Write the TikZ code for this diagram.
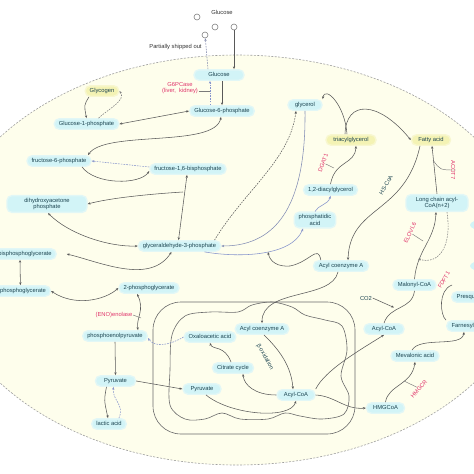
\documentclass[tikz,border=0pt]{standalone}
\usepackage{fontspec}
\setmainfont{Liberation Sans}
\usetikzlibrary{arrows.meta}
\definecolor{bgy}{HTML}{FEFEEC}
\definecolor{cyg}{HTML}{D2F4F7}
\definecolor{cyedge}{HTML}{E2F7F6}
\definecolor{yeg}{HTML}{F4F3B4}
\definecolor{yedge}{HTML}{F8F7CF}
\definecolor{txt}{HTML}{1C4450}
\definecolor{redl}{HTML}{E0356B}
\definecolor{ln}{HTML}{595959}
\definecolor{bl}{HTML}{8593CC}
\begin{document}
\begin{tikzpicture}[x=1pt,y=-1pt,
  every node/.style={font=\fontsize{5.8}{6.6}\selectfont, text=txt},
  glow/.style={fill=cyg, draw=cyedge, line width=1.4pt, rounded corners=5pt, inner xsep=4.5pt, inner ysep=2.4pt},
  met/.style={glow, text height=4.3pt, text depth=1.3pt},
  met2/.style={glow, align=center},
  fat/.style={met, fill=yeg, draw=yedge},
  enz/.style={text=redl, inner sep=0.5pt},
  lab/.style={inner sep=0.5pt},
  outl/.style={inner sep=0.5pt, text=black!80},
  con/.style={draw=ln, line width=0.55pt},
  tip/.style={-{Stealth[length=2.8pt,width=2.3pt]}},
  arr/.style={con, tip},
  both/.style={con, {Stealth[length=2.8pt,width=2.3pt]}-{Stealth[length=2.8pt,width=2.3pt]}},
  dsh/.style={dash pattern=on 1.6pt off 1.1pt},
  blu/.style={draw=bl},
  thin/.style={draw=ln!80, line width=0.45pt},
  memb/.style={draw=ln!90, line width=0.6pt},
  circ/.style={circle, draw=gray, fill=white, minimum size=6pt, inner sep=0pt, line width=0.6pt}
]
\fill[white] (0,0) rectangle (474,474);
\useasboundingbox (0,0) rectangle (474,474);
% cell
\draw[draw=gray!75, fill=bgy, dash pattern=on 2pt off 1.5pt, line width=0.6pt] (237,260) ellipse [x radius=296pt, y radius=205pt];
% mitochondrion
\draw[memb, rounded corners=28pt] (153,302) rectangle (355,434);
\draw[memb] plot[smooth cycle, tension=0.55] coordinates {(170,370) (172,335) (185,316) (210,312) (238,312) (252,305) (272,302) (292,307) (305,315) (325,320) (342,326) (347,350) (341,376) (349,396) (344,414) (322,419) (300,416) (285,413) (268,419) (240,419) (222,413) (205,419) (185,419) (170,405)};
% partial nodes at the right edge
\fill[cyg] (484,225) ellipse [x radius=14pt, y radius=5.5pt];
\fill[cyg] (484,266) ellipse [x radius=14pt, y radius=5.5pt];

% outside
\node[outl] (glc0) at (222,12) {Glucose};
\node[outl] (ship) at (175.5,47) {Partially shipped out};
\node[circ] (c1) at (197,17) {};
\node[circ] (c2) at (215,27) {};
\node[circ] (c3) at (234,27) {};
\node[circ] (c4) at (205,35) {};

% metabolites
\node[met, minimum width=50pt] (glucose) at (219,75) {Glucose};
\node[met] (g6p) at (222,111) {Glucose-6-phosphate};
\node[fat] (glycogen) at (102,91) {Glycogen};
\node[met] (g1p) at (86.5,124) {Glucose-1-phosphate};
\node[met] (f6p) at (59,161) {fructose-6-phosphate};
\node[met] (f16bp) at (188,169) {fructose-1,6-bisphosphate};
\node[met2, minimum width=80pt] (dhap) at (47,204) {dihydroxyacetone\\phosphate};
\node[met] (g3p) at (179.5,246) {glyceraldehyde-3-phosphate};
\node[met] (bpg) at (20,254) {1,3-bisphosphoglycerate};
\node[met] (pg3) at (20.4,291) {3-phosphoglycerate};
\node[met] (pg2) at (149,288) {2-phosphoglycerate};
\node[met] (pep) at (115,336) {phosphoenolpyruvate};
\node[met, minimum width=40pt] (pyr1) at (115.5,381) {Pyruvate};
\node[met] (lactic) at (109,424) {lactic acid};
\node[met] (oaa) at (210,337) {Oxaloacetic acid};
\node[met] (acylin) at (262,329) {Acyl coenzyme A};
\node[met] (citrate) at (233,368) {Citrate cycle};
\node[met, minimum width=38pt] (pyr2) at (202,389) {Pyruvate};
\node[met, minimum width=38pt] (acylcoain) at (296,395) {Acyl-CoA};
\node[met, minimum width=34pt] (glycerol) at (305,105) {glycerol};
\node[fat, minimum width=50pt] (tag) at (351,140) {triacylglycerol};
\node[fat, minimum width=39pt] (fa) at (431,140) {Fatty acid};
\node[met] (dag) at (330.5,190) {1,2-diacylglycerol};
\node[met2] (pa) at (315,220) {phosphatidic\\acid};
\node[met2, minimum width=62pt] (lcacyl) at (437,203) {Long chain acyl-\\CoA(n+2)};
\node[met, minimum width=43pt] (malonyl) at (414.5,285) {Malonyl-CoA};
\node[met, minimum width=55pt] (acyltop) at (341,266) {Acyl coenzyme A};
\node[met, minimum width=40pt] (acylcoar) at (384,329) {Acyl-CoA};
\node[met, minimum width=48pt] (meval) at (415,356) {Mevalonic acid};
\node[met, minimum width=38pt] (hmgcoa) at (385.5,408) {HMGCoA};
\node[met, anchor=west, inner xsep=5pt] (presq) at (451,297) {Presqu};
\node[met, anchor=west, inner xsep=5pt] (farn) at (446,326) {Farnesyl-};

% enzyme and other labels
\node[enz, align=center] (g6pcase) at (180,88) {G6PCase\\(liver,\ \ kidney)};
\node[enz, rotate=70] (dgat) at (323,163) {DGAT1};
\node[enz, rotate=-90] (acot) at (453,170) {ACOT7};
\node[enz, rotate=65] (elovl) at (410,233) {ELOVL6};
\node[enz, rotate=60] (fdft) at (444,280) {FDFT1};
\node[enz, rotate=50] (hmgcr) at (419,389) {HMGCR};
\node[enz] (eno) at (114,315) {(ENO)enolase};
\node[lab, rotate=60] (hscoa) at (386,185) {HS-CoA};
\node[lab] (co2) at (366,298) {CO2};
\node[lab, rotate=-60] (boxid) at (265,357) {β-oxidation};

% junction points
\coordinate (gcj) at (210,91);
\coordinate (ald) at (183,192);
\coordinate (enoj) at (141,318);
\coordinate (elj) at (418,259);
\coordinate (co2j) at (394,307.5);
\coordinate (acj) at (268,252);
\coordinate (dgj) at (334,168);
\coordinate (elovj) at (423,241);
\coordinate (acotj) at (433,160);
\coordinate (hmgj) at (404,381);

% glucose
\draw[arr] (c3) -- (c3 |- glucose.north);
\draw[arr, dsh, draw=bl!60!gray] ([xshift=-11pt]glucose.north) -- (c4);
\draw[arr, dsh, blu] ([xshift=-12pt]g6p.north) -- ([xshift=-9pt]glucose.south);
\draw[arr] ([xshift=3pt]glucose.south) -- (g6p.north);
\draw[thin] ([yshift=-3pt]g6pcase.east) -- (gcj);
\draw[both] (g1p.east) -- (g6p.west);
\draw[arr] ([xshift=-13pt]glycogen.south) .. controls (84,105) .. (g1p.north);
\draw[arr, dsh, draw=gray] ([xshift=12pt]g1p.north) .. controls (110,108) and (126,100) .. (glycogen.east);
% glycolysis
\draw[both] ([xshift=29pt]f6p.north) .. controls (105,130) and (215,148) .. ([xshift=-1pt]g6p.south);
\draw[arr] ([xshift=23pt]f6p.south) .. controls (95,185) and (140,185) .. ([yshift=-2pt]f16bp.west);
\draw[arr, dsh, blu] ([yshift=2pt]f16bp.west) -- (f6p.east);
\draw[both] ([xshift=-1pt]f16bp.south) -- ([xshift=-1pt]g3p.north);
\draw[arr] (ald) .. controls (150,194) and (110,198) .. (dhap.east);
\draw[both] ([xshift=1pt]dhap.south) .. controls (70,235) and (110,247) .. (g3p.west);
\draw[both] ([xshift=10pt]bpg.east) .. controls (100,262) and (150,285) .. ([xshift=-8pt]g3p.south);
\draw[both] (bpg.south) -- (pg3.north);
\draw[both] (pg3.east) .. controls (75,307) and (105,300) .. (pg2.west);
\draw[both] ([xshift=-12pt]pg2.south) .. controls (145,310) and (136,318) .. ([xshift=23pt]pep.north);
\draw[thin] (eno.east) -- (enoj);
\draw[arr] (pep.south) -- (pyr1.north);
\draw[arr] ([xshift=-9pt]pyr1.south) .. controls (104,400) .. ([xshift=-1pt]lactic.north);
\draw[arr, dsh, blu] ([xshift=10pt]lactic.north) .. controls (125,405) and (112,400) .. ([xshift=-2pt]pyr1.south);
\draw[arr, dsh, blu] (oaa.west) .. controls (170,345) and (155,348) .. ([yshift=-2pt]pep.east);
\draw[arr] (pyr1.east) -- (pyr2.west);
% mitochondrion
\draw[arr] ([xshift=4pt]pyr2.south) .. controls (230,415) and (290,420) .. (acylcoain.south);
\draw[arr] (acylcoain.west) .. controls (255,395) and (244,385) .. ([xshift=10pt]citrate.south);
\draw[arr] ([xshift=-2pt]citrate.north) .. controls (225,345) and (212,350) .. (oaa.south);
\draw[arr] ([xshift=2pt]acylin.south) .. controls (274,345) and (291,362) .. ([xshift=-3pt]acylcoain.north);
\draw[arr] ([xshift=-3pt]acyltop.south) .. controls (332,300) and (262,288) .. (acylin.north);
\draw[arr] (acylcoain.north east) .. controls (325,370) and (360,350) .. (acylcoar.south);
\draw[arr] (acylcoain.east) .. controls (335,396) and (345,410) .. (hmgcoa.west);
% lipids
\draw[arr, draw=bl!70!gray] (glycerol.south) .. controls (306,200) and (280,246) .. (g3p.east);
\draw[arr, dsh, draw=ln] ([xshift=35pt]g3p.north) .. controls (245,190) and (290,160) .. ([xshift=-9pt]glycerol.south);
\draw[arr, blu] ([xshift=25pt]g3p.south) .. controls (240,258) and (292,256) .. ([xshift=-12pt]pa.south);
\draw[arr, blu] ([xshift=0pt]pa.north) .. controls (318,205) and (328,205) .. (dag.south);
\draw[arr] ([xshift=8pt]acyltop.north west) .. controls (318,244) and (310,262) .. (290,266) .. controls (278,267) and (270,262) .. (acj);
\draw[arr] (dag.north) .. controls (335,160) and (355,165) .. ([xshift=5pt]tag.south);
\draw[thin] (dgat.south) -- (dgj);
\draw[arr] ([xshift=-4pt]tag.north) .. controls (345,105) and (325,85) .. (glycerol.north east);
\draw[arr] ([xshift=-6pt]tag.north) .. controls (346,100) and (378,100) .. (fa.west);
\draw[arr] ([xshift=-11pt]fa.south) .. controls (405,215) and (350,205) .. ([xshift=7pt]acyltop.north);
\draw[arr] (lcacyl.north) -- ([xshift=1pt]fa.south);
\draw[thin] (acotj) .. controls (440,170) .. (acot.north);
\draw[arr] (malonyl.north) .. controls (417,250) and (435,240) .. ([xshift=-1pt]lcacyl.south);
\draw[arr, dsh, draw=gray] ([xshift=10pt]lcacyl.south) .. controls (452,245) and (440,265) .. (elj);
\draw[thin] (elovl.south) -- (elovj);
\draw[con] (acylcoar.north) .. controls (390,305) and (412,310) .. (malonyl.south);
\draw[arr] (co2.east) -- (co2j);
\draw[arr] (hmgcoa.north) .. controls (388,385) and (412,385) .. (meval.south);
\draw[thin] (hmgj) -- (hmgcr.north);
\draw[arr] ([xshift=-3pt]meval.north) .. controls (420,336) and (462,348) .. ([xshift=18pt]farn.south west);
\draw[con] (farn.north west) .. controls (440,315) and (438,290) .. (452,285);
\end{tikzpicture}
\end{document}
